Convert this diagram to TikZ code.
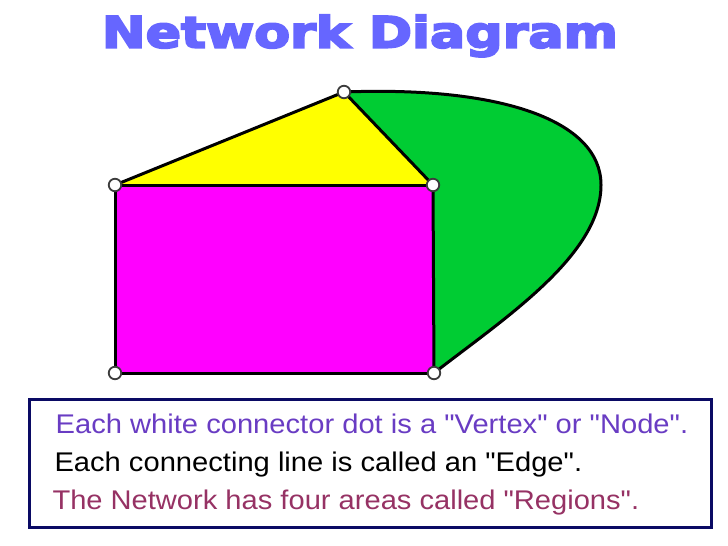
\documentclass[tikz,border=0pt]{standalone}
\usepackage{fontspec}
\setmainfont{Liberation Sans}[Ligatures=TeXOff]
\newfontfamily\titlefont[FakeBold=4]{DejaVu Sans Bold}
\definecolor{titleblue}{RGB}{102,102,255}
\definecolor{regyellow}{RGB}{255,255,0}
\definecolor{regmagenta}{RGB}{255,0,255}
\definecolor{reggreen}{RGB}{0,204,51}
\definecolor{boxnavy}{RGB}{10,10,100}
\definecolor{lineone}{RGB}{105,60,195}
\definecolor{linethree}{RGB}{150,50,100}
\definecolor{dotrim}{RGB}{60,60,60}
\begin{document}
\begin{tikzpicture}[x=1pt,y=-1pt,
  edge/.style={draw=black,line width=3pt,line join=round},
  vertexdot/.style={circle,draw=dotrim,fill=white,line width=1.8pt,minimum size=12.5pt,inner sep=0pt},
  infoline/.style={anchor=base west,inner sep=0pt,font=\fontsize{27}{30}\selectfont}]
\useasboundingbox (0,0) rectangle (728,546);
% vertex positions
\coordinate (A) at (344,92);
\coordinate (B) at (115,185);
\coordinate (C) at (433,185);
\coordinate (D) at (115,373);
\coordinate (E) at (434,373);
% title
\node[anchor=base,inner sep=0pt,text=titleblue] (title) at (360,47.7)
  {\resizebox{516pt}{33pt}{\titlefont Network Diagram}};
% regions
\fill[reggreen] (A) .. controls (500,86) and (601,120) .. (601,185)
  .. controls (601,255) and (505,318) .. (E) -- (C) -- cycle;
\fill[regyellow] (A) -- (B) -- (C) -- cycle;
\fill[regmagenta] (B) -- (C) -- (E) -- (D) -- cycle;
% edges
\draw[edge] (A) .. controls (500,86) and (601,120) .. (601,185)
  .. controls (601,255) and (505,318) .. (E);
\draw[edge] (A) -- (B);
\draw[edge] (A) -- (C);
\draw[edge] (B) -- (C);
\draw[edge] (B) -- (D);
\draw[edge] (C) -- (E);
\draw[edge] (D) -- (E);
% vertices
\node[vertexdot] (vA) at (A) {};
\node[vertexdot] (vB) at (B) {};
\node[vertexdot] (vC) at (C) {};
\node[vertexdot] (vD) at (D) {};
\node[vertexdot] (vE) at (E) {};
% info box
\node[draw=boxnavy,line width=2.5pt,minimum width=682pt,minimum height=128pt,anchor=north west,inner sep=0pt] (box) at (28,398) {};
\node[infoline,text=lineone] (l1) at (55.5,433.3) {\resizebox{632.5pt}{\height}{Each white connector dot is a "Vertex" or "Node".}};
\node[infoline,text=black] (l2) at (54.3,471.7) {\resizebox{527.7pt}{\height}{Each connecting line is called an "Edge".}};
\node[infoline,text=linethree] (l3) at (52.3,509.3) {\resizebox{586.7pt}{\height}{The Network has four areas called "Regions".}};
\end{tikzpicture}
\end{document}
